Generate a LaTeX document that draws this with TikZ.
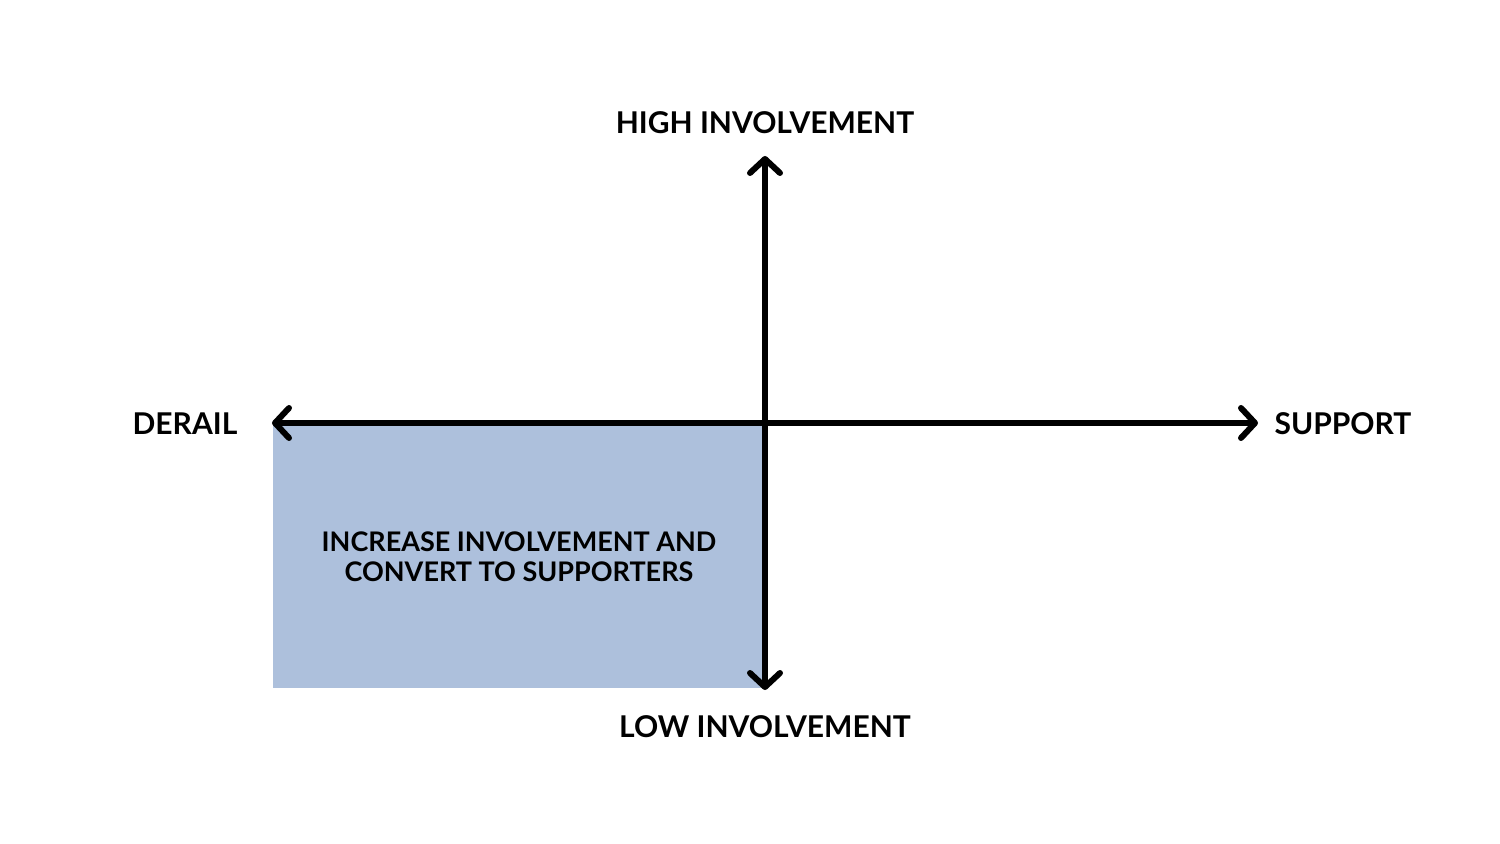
\documentclass[tikz,border=0pt]{standalone}
\usepackage{fontspec}
\setmainfont{Lato}
\usetikzlibrary{arrows.meta}
\definecolor{quad}{HTML}{ADC0DC}
\tikzset{
  axis/.style={line width=3pt,{Straight Barb[length=7pt,width=15pt,line cap=round,line join=round]}-{Straight Barb[length=7pt,width=15pt,line cap=round,line join=round]}},
  lab/.style={font=\bfseries\fontsize{15}{18}\selectfont,align=center,inner sep=0pt}
}
\begin{document}
\begin{tikzpicture}[x=0.5pt,y=-0.5pt]
\useasboundingbox (0,0) rectangle (1500,844);
\fill[quad] (273,423) rectangle (765,688);
\coordinate (top) at (765,156);
\coordinate (bot) at (765,690);
\coordinate (lft) at (272,423);
\coordinate (rgt) at (1258,423);
\draw[axis] (bot) -- (top);
\draw[axis] (lft) -- (rgt);
\node[lab] (hi) at (765,123) {HIGH INVOLVEMENT};
\node[lab] (lo) at (765,727) {LOW INVOLVEMENT};
\node[lab] (de) at (185,424) {DERAIL};
\node[lab] (su) at (1343,424) {SUPPORT};
\node[lab,font=\bfseries\fontsize{13.5}{15}\selectfont] (q) at (519,557) {INCREASE INVOLVEMENT AND\\CONVERT TO SUPPORTERS};
\end{tikzpicture}
\end{document}
